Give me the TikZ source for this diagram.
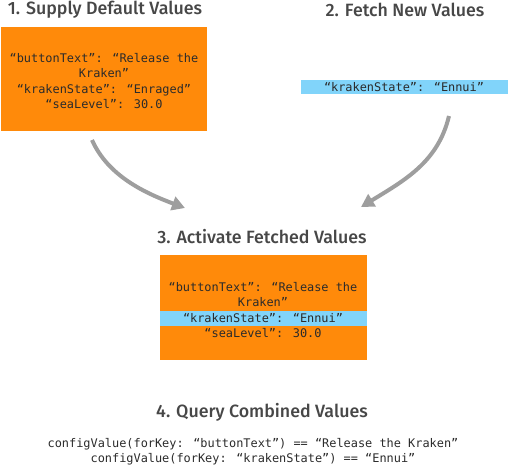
\documentclass[tikz,border=0pt]{standalone}
\usepackage{fontspec}
\setmainfont{Fira Sans}[BoldFont={Fira Sans Medium}]
\newfontfamily\codefont{DejaVu Sans Mono}
\usetikzlibrary{arrows.meta}
\definecolor{kraorange}{HTML}{FF8A0A}
\definecolor{krablue}{HTML}{81D4FA}
\definecolor{kragray}{HTML}{9E9E9E}
\definecolor{kratitle}{HTML}{474747}
\definecolor{kratext}{HTML}{2B2B2B}
\tikzset{
  title/.style={font=\fontsize{17.8}{20}\selectfont\bfseries, text=kratitle, inner sep=0pt},
  code/.style={font=\codefont\fontsize{11.9}{15.2}\selectfont, text=kratext, align=center, inner sep=0pt},
  orangebox/.style={fill=kraorange, draw=none, inner sep=0pt, anchor=north west},
  bluebar/.style={fill=krablue, draw=none, inner sep=0pt, anchor=north west},
  flow/.style={draw=kragray, line width=4pt, -{Triangle[length=13pt,width=14pt]}},
}
\begin{document}
\begin{tikzpicture}[x=1pt,y=-1pt]
\useasboundingbox (0,0) rectangle (508,469);
% step 1
\node[title] (t1) at (105,10) {1. Supply Default Values};
\node[orangebox, minimum width=206pt, minimum height=104pt] (box1) at (1,27) {};
\node[code] (c1) at (104,81) {“buttonText”: “Release the\\Kraken”\\“krakenState”: “Enraged”\\“seaLevel”: 30.0};
% step 2
\node[title] (t2) at (405,10) {2. Fetch New Values};
\node[bluebar, minimum width=207pt, minimum height=14pt] (bar2) at (301,80) {};
\node[code] (c2) at (404,87) {“krakenState”: “Ennui”};
% step 3
\node[title] (t3) at (262,237) {3. Activate Fetched Values};
\node[orangebox, minimum width=207pt, minimum height=105pt] (box3) at (160,255) {};
\node[bluebar, minimum width=207pt, minimum height=15pt] (bar3) at (160,311) {};
\node[code] (c3) at (263,310) {“buttonText”: “Release the\\Kraken”\\“krakenState”: “Ennui”\\“seaLevel”: 30.0};
% step 4
\node[title] (t4) at (262,412) {4. Query Combined Values};
\node[code] (c4) at (253,452) {configValue(forKey: “buttonText”) == “Release the Kraken”\\configValue(forKey: “krakenState”) == “Ennui”};
% arrows
\coordinate (a1s) at (92,140);
\coordinate (a1e) at (185,208);
\coordinate (a2s) at (449,116);
\coordinate (a2e) at (361,207);
\draw[flow] (a1s) .. controls (108,176) and (145,193) .. (a1e);
\draw[flow] (a2s) .. controls (438,162) and (405,180) .. (a2e);
\end{tikzpicture}
\end{document}
